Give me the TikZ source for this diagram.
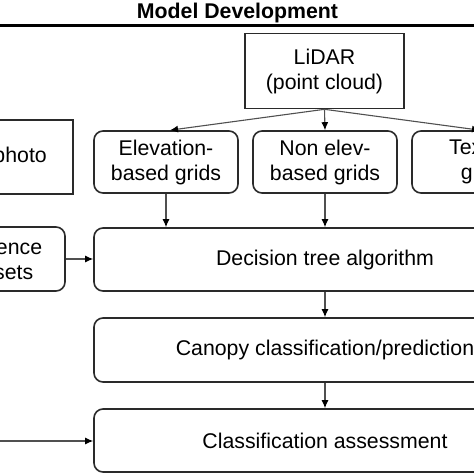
\documentclass[tikz,border=0pt]{standalone}
\usepackage{fontspec}
\setmainfont{Liberation Sans}
\usetikzlibrary{arrows.meta,calc}
\definecolor{boxline}{HTML}{2A2A2A}
\definecolor{conn}{HTML}{505050}
\tikzset{
  sqbox/.style={draw=boxline, line width=1.6pt, align=center, inner sep=0pt,
    font=\fontsize{21.3}{25}\selectfont},
  rbox/.style={sqbox, rounded corners=9pt},
  flow/.style={draw=conn, line width=1.1pt, -{Latex[length=8pt,width=7pt,color=black]}},
}
\begin{document}
\begin{tikzpicture}[x=1pt,y=-1pt]
\useasboundingbox (0,0) rectangle (474,474);
\clip (0,0) rectangle (474,474);
\node[font=\fontsize{21.3}{25}\selectfont\bfseries, anchor=base, inner sep=0pt] (title) at (237.5,18.5) {Model Development};
\coordinate (rl) at (0,25.5);
\coordinate (rr) at (474,25.5);
\draw[line width=3pt] (rl) -- (rr);
\node[sqbox, minimum width=159pt, minimum height=75pt] (lidar) at (324.5,71) {LiDAR\\(point cloud)};
\node[rbox, minimum width=144pt, minimum height=62pt] (elev) at (166,162) {Elevation-\\based grids};
\node[rbox, minimum width=144pt, minimum height=62pt] (nonelev) at (325,162) {Non elev-\\based grids};
\node[rbox, minimum width=144pt, minimum height=62pt] (tex) at (484,162) {Texture\\grids};
\node[sqbox, minimum width=159pt, minimum height=74pt] (ortho) at (-6.5,157) {Orthophoto};
\node[rbox, minimum width=144pt, minimum height=64pt] (ref) at (-7,259) {Reference\\datasets};
\node[rbox, minimum width=462pt, minimum height=63pt] (dec) at (325,259.5) {Decision tree algorithm};
\node[rbox, minimum width=462pt, minimum height=64pt] (can) at (325,350) {Canopy classification/prediction};
\node[rbox, minimum width=462pt, minimum height=63pt] (ass) at (325,440.5) {Classification assessment};
\coordinate (leftin) at (-20,441);
\draw[flow] (lidar.south) -- ($(elev.north)+(4,0)$);
\draw[flow] (lidar.south) -- (nonelev.north);
\draw[flow] (lidar.south) -- ($(tex.north)+(-4,0)$);
\draw[flow] (elev.south) -- (elev.south |- dec.north);
\draw[flow] (nonelev.south) -- (nonelev.south |- dec.north);
\draw[flow] (ref.east) -- (ref.east -| dec.west);
\draw[flow] (dec.south) -- (can.north);
\draw[flow] (can.south) -- (ass.north);
\draw[flow] (leftin) -- (leftin -| ass.west);
\end{tikzpicture}
\end{document}
